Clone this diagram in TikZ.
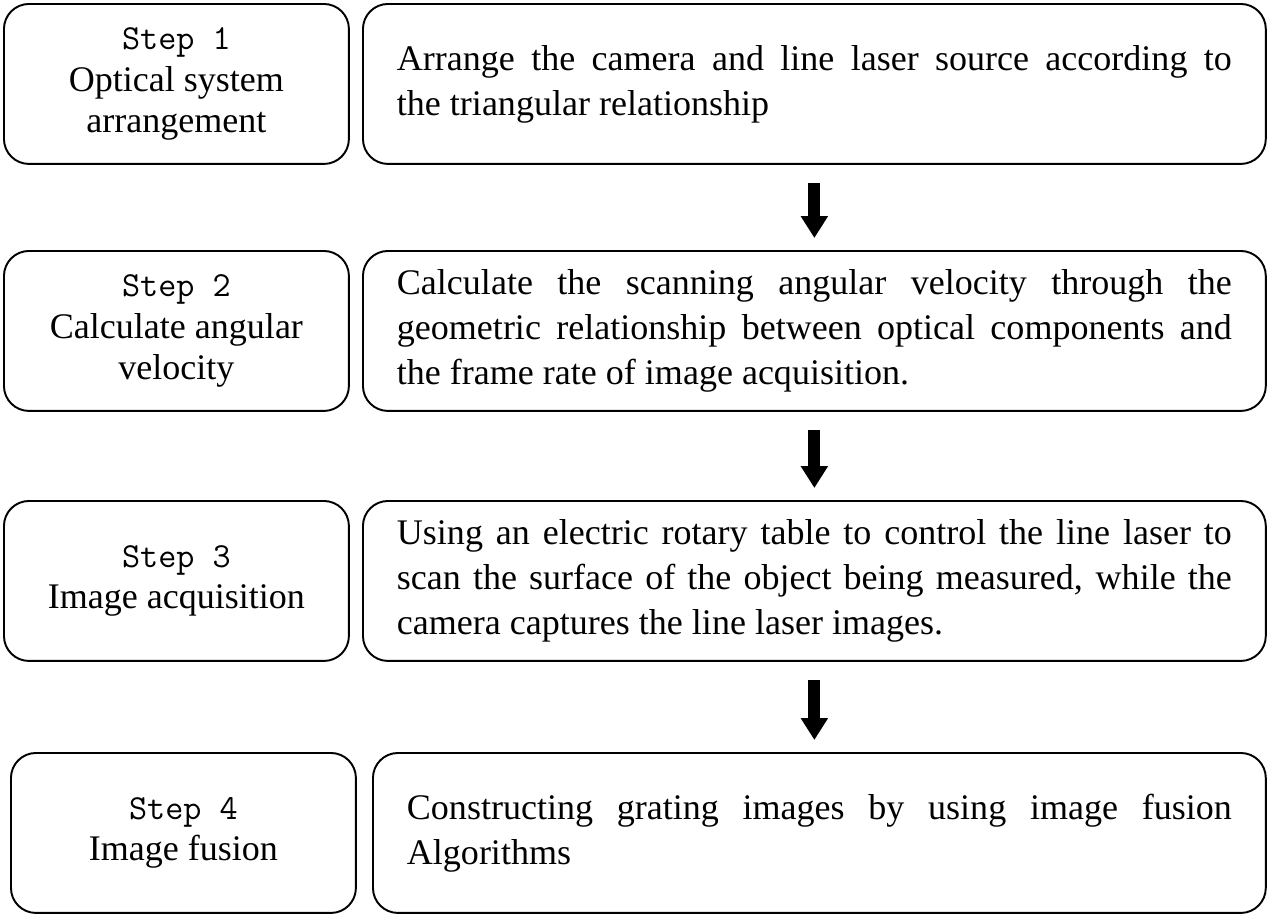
\documentclass[tikz,border=0pt]{standalone}
\usepackage{fontspec}
\setmainfont{Liberation Serif}
\usetikzlibrary{arrows.meta}

\tikzset{
  box/.style={draw, line width=1.1pt, rounded corners=0.5cm, anchor=north west},
  stepbox/.style={box, minimum width=6.9cm, minimum height=3.2cm, align=center,
    font=\fontsize{20.5}{23.5}\selectfont},
  taskbox/.style={box, minimum height=3.2cm, text width=16.7cm, align=justify,
    inner xsep=0.6cm, font=\fontsize{20.5}{25.6}\selectfont},
  flow/.style={line width=0.24cm, -{Triangle[width=0.52cm,length=0.44cm]},
    shorten <=0.36cm, shorten >=0.24cm}
}
\newcommand{\steplabel}[1]{{\ttfamily\fontsize{20}{23.5}\selectfont Step #1}}

\begin{document}
\begin{tikzpicture}[x=0.02cm,y=-0.02cm]
  \useasboundingbox (0,0) rectangle (1267,916);
  % left column
  \node[stepbox] (s1) at (3,3)   {\steplabel{1}\\Optical system\\arrangement};
  \node[stepbox] (s2) at (3,250) {\steplabel{2}\\Calculate angular\\velocity};
  \node[stepbox] (s3) at (3,500) {\steplabel{3}\\Image acquisition};
  \node[stepbox] (s4) at (10,752) {\steplabel{4}\\Image fusion};
  % right column
  \node[taskbox, minimum width=18.06cm] (t1) at (362,3)
    {Arrange the camera and line laser source according to\linebreak the triangular relationship};
  \node[taskbox, minimum width=18.06cm] (t2) at (362,250)
    {Calculate the scanning angular velocity through the\linebreak geometric relationship between optical components and\linebreak the frame rate of image acquisition.};
  \node[taskbox, minimum width=18.06cm] (t3) at (362,500)
    {Using an electric rotary table to control the line laser to\linebreak scan the surface of the object being measured, while the\linebreak camera captures the line laser images.};
  \node[taskbox, minimum width=17.86cm, text width=16.5cm, inner xsep=0.3cm] (t4) at (372,752)
    {Constructing grating images by using image fusion\linebreak Algorithms};
  % arrows
  \draw[flow] (t1.south) -- (t2.north);
  \draw[flow] (t2.south) -- (t3.north);
  \draw[flow] (t3.south) -- (t3.south |- t4.north);
\end{tikzpicture}
\end{document}
